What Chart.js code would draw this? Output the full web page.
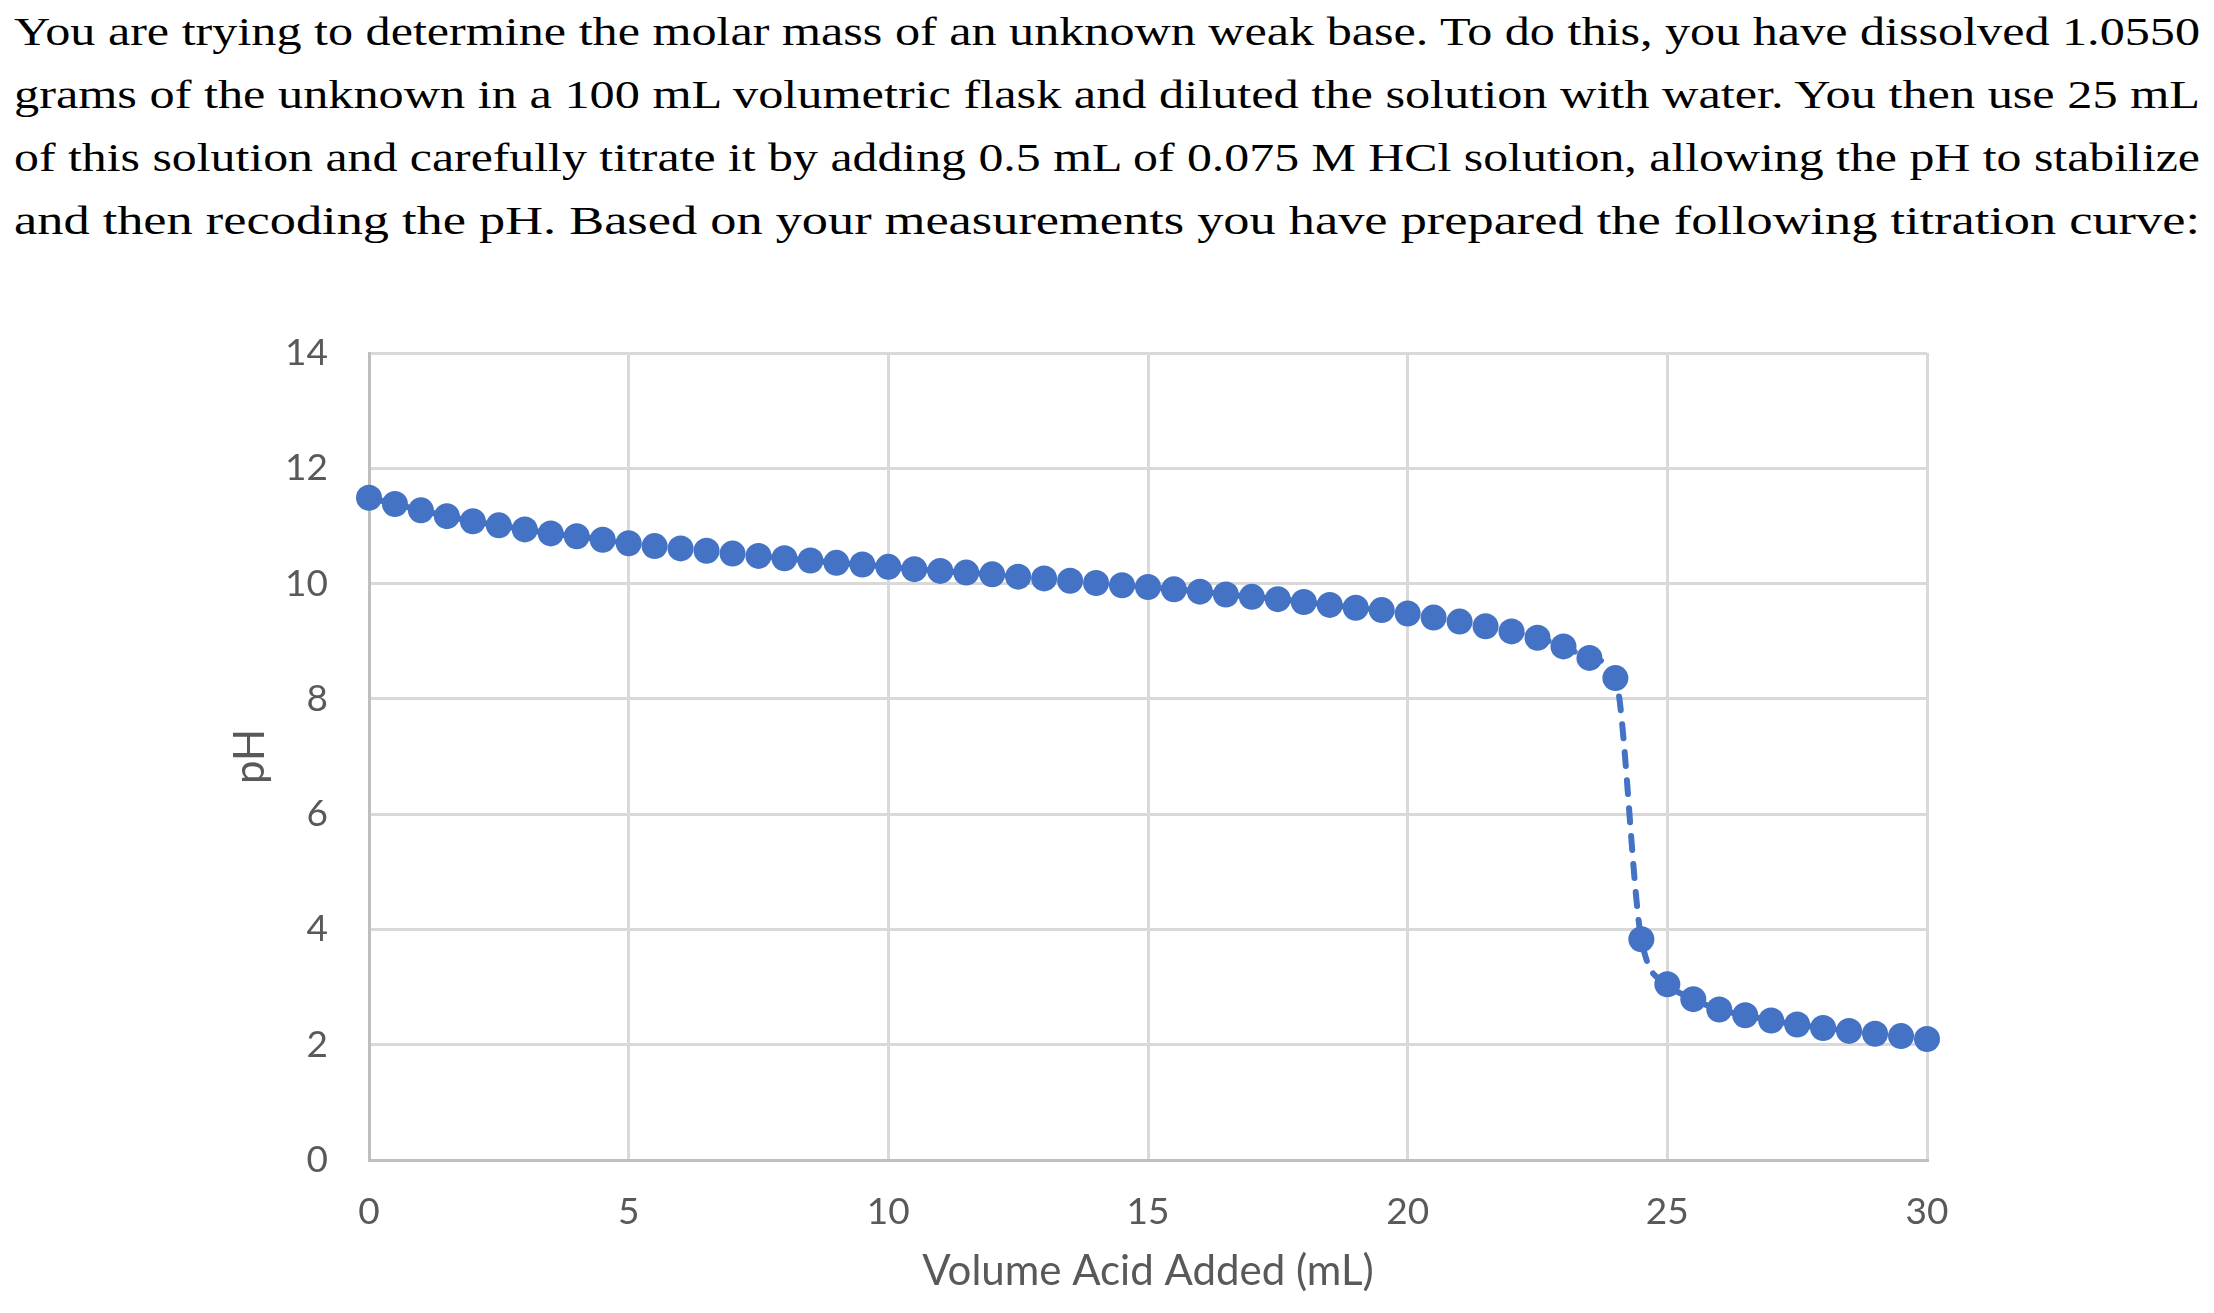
<!DOCTYPE html>
<html>
<head>
<meta charset="utf-8">
<script src="https://cdn.jsdelivr.net/npm/chart.js@4.4.1/dist/chart.umd.min.js"></script>
<style>
  html, body { margin: 0; padding: 0; background: #ffffff; }
  body { width: 2214px; height: 1313px; position: relative; overflow: hidden; }
  #para { position: absolute; left: 14px; top: 0; width: 2188px;
          font-family: "Liberation Serif", "DejaVu Serif", serif; font-size: 39px;
          line-height: 63px; color: #000; }
  #para .ln { display: block; height: 63px; }
  #para .ln span { display: inline-block; white-space: nowrap; transform-origin: 0 0; }
  #chart { position: absolute; left: 0; top: 280px; }
</style>
</head>
<body>
<div id="para">
  <div class="ln"><span>You are trying to determine the molar mass of an unknown weak base. To do this, you have dissolved 1.0550</span></div>
  <div class="ln"><span>grams of the unknown in a 100 mL volumetric flask and diluted the solution with water. You then use 25 mL</span></div>
  <div class="ln"><span>of this solution and carefully titrate it by adding 0.5 mL of 0.075 M HCl solution, allowing the pH to stabilize</span></div>
  <div class="ln"><span>and then recoding the pH. Based on your measurements you have prepared the following titration curve:</span></div>
</div>
<canvas id="chart" width="2214" height="1033"></canvas>
<script>
// fit each text line to the paragraph width (reference text is justified)
document.querySelectorAll('#para .ln span').forEach(s => {
  const w = s.getBoundingClientRect().width;
  s.style.transform = 'scaleX(' + (2186 / w) + ')';
});

const volumeAdded = [0, 0.5, 1, 1.5, 2, 2.5, 3, 3.5, 4, 4.5, 5, 5.5, 6, 6.5, 7, 7.5, 8, 8.5, 9, 9.5,
  10, 10.5, 11, 11.5, 12, 12.5, 13, 13.5, 14, 14.5, 15, 15.5, 16, 16.5, 17, 17.5, 18, 18.5, 19, 19.5,
  20, 20.5, 21, 21.5, 22, 22.5, 23, 23.5, 24, 24.5, 25, 25.5, 26, 26.5, 27, 27.5, 28, 28.5, 29, 29.5, 30];
const pHValues = [11.49, 11.38, 11.27, 11.17, 11.08, 11.01, 10.94, 10.87, 10.82, 10.76, 10.70, 10.65, 10.61, 10.57, 10.52, 10.48, 10.44, 10.40, 10.36, 10.33,
  10.29, 10.25, 10.22, 10.19, 10.16, 10.12, 10.09, 10.05, 10.01, 9.97, 9.94, 9.90, 9.86, 9.81, 9.77, 9.73, 9.68, 9.63, 9.58, 9.54,
  9.48, 9.41, 9.34, 9.26, 9.17, 9.06, 8.91, 8.71, 8.36, 3.83, 3.05, 2.79, 2.61, 2.51, 2.42, 2.35, 2.29, 2.24, 2.19, 2.15, 2.10];
const xTitle = 'Volume Acid Added (mL)';
const yTitle = 'pH';
const xRange = [0, 30, 5];
const yRange = [0, 14, 2];

const points = volumeAdded.map((v, i) => ({ x: v, y: pHValues[i] }));
const blue = '#4472C4';
const tickColor = '#595959';
const tickFont = { family: 'Lato, "Open Sans", sans-serif', size: 37 };
const titleFont = { family: 'Lato, "Open Sans", sans-serif', size: 42 };

new Chart(document.getElementById('chart'), {
  type: 'scatter',
  data: {
    datasets: [{
      data: points,
      showLine: true,
      borderColor: blue,
      backgroundColor: blue,
      borderWidth: 6,
      borderDash: [14, 14],
      borderCapStyle: 'round',
      cubicInterpolationMode: 'monotone',
      pointRadius: 13,
      pointBorderWidth: 0,
      pointBackgroundColor: blue,
      pointHoverRadius: 13,
      clip: false
    }]
  },
  options: {
    responsive: false,
    devicePixelRatio: 1,
    animation: false,
    events: [],
    layout: { padding: { top: 73, right: 287, left: 0, bottom: 0 } },
    plugins: { legend: { display: false }, tooltip: { enabled: false } },
    scales: {
      x: {
        type: 'linear',
        min: xRange[0], max: xRange[1],
        afterFit: (s) => { s.height = 153; },
        ticks: { stepSize: xRange[2], color: tickColor, font: tickFont, padding: 30, maxRotation: 0 },
        grid: { color: '#D9D9D9', lineWidth: 3, drawTicks: false },
        border: { color: '#BFBFBF', width: 3 },
        title: { display: true, text: xTitle, color: tickColor, font: titleFont, padding: { top: 0, bottom: 16 } }
      },
      y: {
        type: 'linear',
        min: yRange[0], max: yRange[1],
        afterFit: (s) => { s.width = 369; },
        ticks: { stepSize: yRange[2], color: tickColor, font: tickFont, padding: 41 },
        grid: { color: '#D9D9D9', lineWidth: 3, drawTicks: false },
        border: { color: '#BFBFBF', width: 3 },
        title: { display: true, text: yTitle, color: tickColor, font: titleFont, padding: { top: 225, bottom: 0 } }
      }
    }
  }
});
</script>
</body>
</html>
